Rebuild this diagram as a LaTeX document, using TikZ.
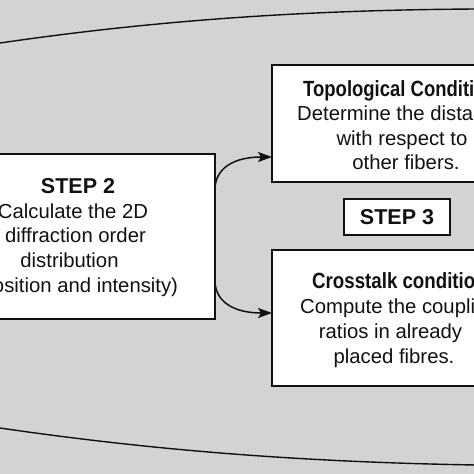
\documentclass[tikz,border=0pt]{standalone}
\usepackage{fontspec}
\usepackage{graphicx}
\setmainfont{Liberation Sans}
\usetikzlibrary{calc,arrows.meta}
\definecolor{bg}{HTML}{D3D3D3}
\definecolor{ink}{HTML}{111111}
\begin{document}
\begin{tikzpicture}[x=1pt,y=-1pt,
  box/.style={draw=ink, line width=1.6pt, fill=white, inner sep=0pt, outer sep=0pt, rectangle},
  txt/.style={anchor=base, inner sep=0pt, text=ink, font=\fontsize{20.3}{25}\selectfont},
  txtw/.style={anchor=base west, inner sep=0pt, text=ink, font=\fontsize{20.3}{25}\selectfont},
  ttl/.style={anchor=base west, inner sep=0pt, text=ink, font=\fontsize{22}{25}\selectfont\bfseries},
  stepttl/.style={anchor=base, inner sep=0pt, text=ink, font=\fontsize{21.5}{25}\selectfont\bfseries},
  link/.style={line width=1.5pt, draw=ink, -{Stealth[length=14pt,width=10pt,inset=3pt]}},
  frameline/.style={line width=1.4pt, draw=ink}]
\useasboundingbox (0,0) rectangle (474,474);
\clip (0,0) rectangle (474,474);
\fill[bg] (0,0) rectangle (474,474);

% big rounded frame (visible parts)
\draw[frameline] (-2,43.3) .. controls (150,21) and (300,10) .. (476,9);
\draw[frameline] (-2,427.7) .. controls (150,450) and (300,462) .. (476,465);

% boxes
\node[box, minimum width=282pt, minimum height=165pt] (step2) at (74,236.5) {};
\node[box, minimum width=264pt, minimum height=117pt] (topo) at (404,123.5) {};
\node[box, minimum width=242pt, minimum height=136pt] (cross) at (393,318) {};
\node[box, minimum width=106pt, minimum height=36pt, text=ink,
      font=\fontsize{21.5}{25}\selectfont\bfseries] (step3) at (397,217) {STEP 3};

% step 2 text
\node[stepttl] (s2t) at (78,193.5) {STEP 2};
\node[txt] (s2a) at (73,218) {Calculate the 2D};
\node[txt] (s2b) at (75.5,242) {diffraction order};
\node[txt] (s2c) at (69.5,267) {distribution};
\node[txt] (s2d) at (76.5,292) {(position and intensity)};

% topological text
\node[ttl] (tpt) at (303,96) {\scalebox{0.84}[1]{Topological Conditions}};
\node[txtw] (tpa) at (297,120) {Determine the distance};
\node[txt] (tpb) at (402,145) {with respect to};
\node[txt] (tpc) at (406,169) {other fibers.};

% crosstalk text
\node[ttl] (crt) at (312,288) {\scalebox{0.85}[1]{Crosstalk conditions}};
\node[txtw] (cra) at (300,313) {Compute the coupling};
\node[txt] (crb) at (390.5,338) {ratios in already};
\node[txt] (crc) at (394,363) {placed fibres.};

% connectors
\coordinate (o1) at ($(step2.east)+(0,-48.5)$);
\coordinate (o2) at ($(step2.east)+(0,45.5)$);
\draw[link] (o1) .. controls ($(o1)+(1,-20)$) and ($(topo.west)+(-38,33.5)$) .. ($(topo.west)+(0,33.5)$);
\draw[link] (o2) .. controls ($(o2)+(1,20)$) and ($(cross.west)+(-38,-5)$) .. ($(cross.west)+(0,-5)$);
\end{tikzpicture}
\end{document}
